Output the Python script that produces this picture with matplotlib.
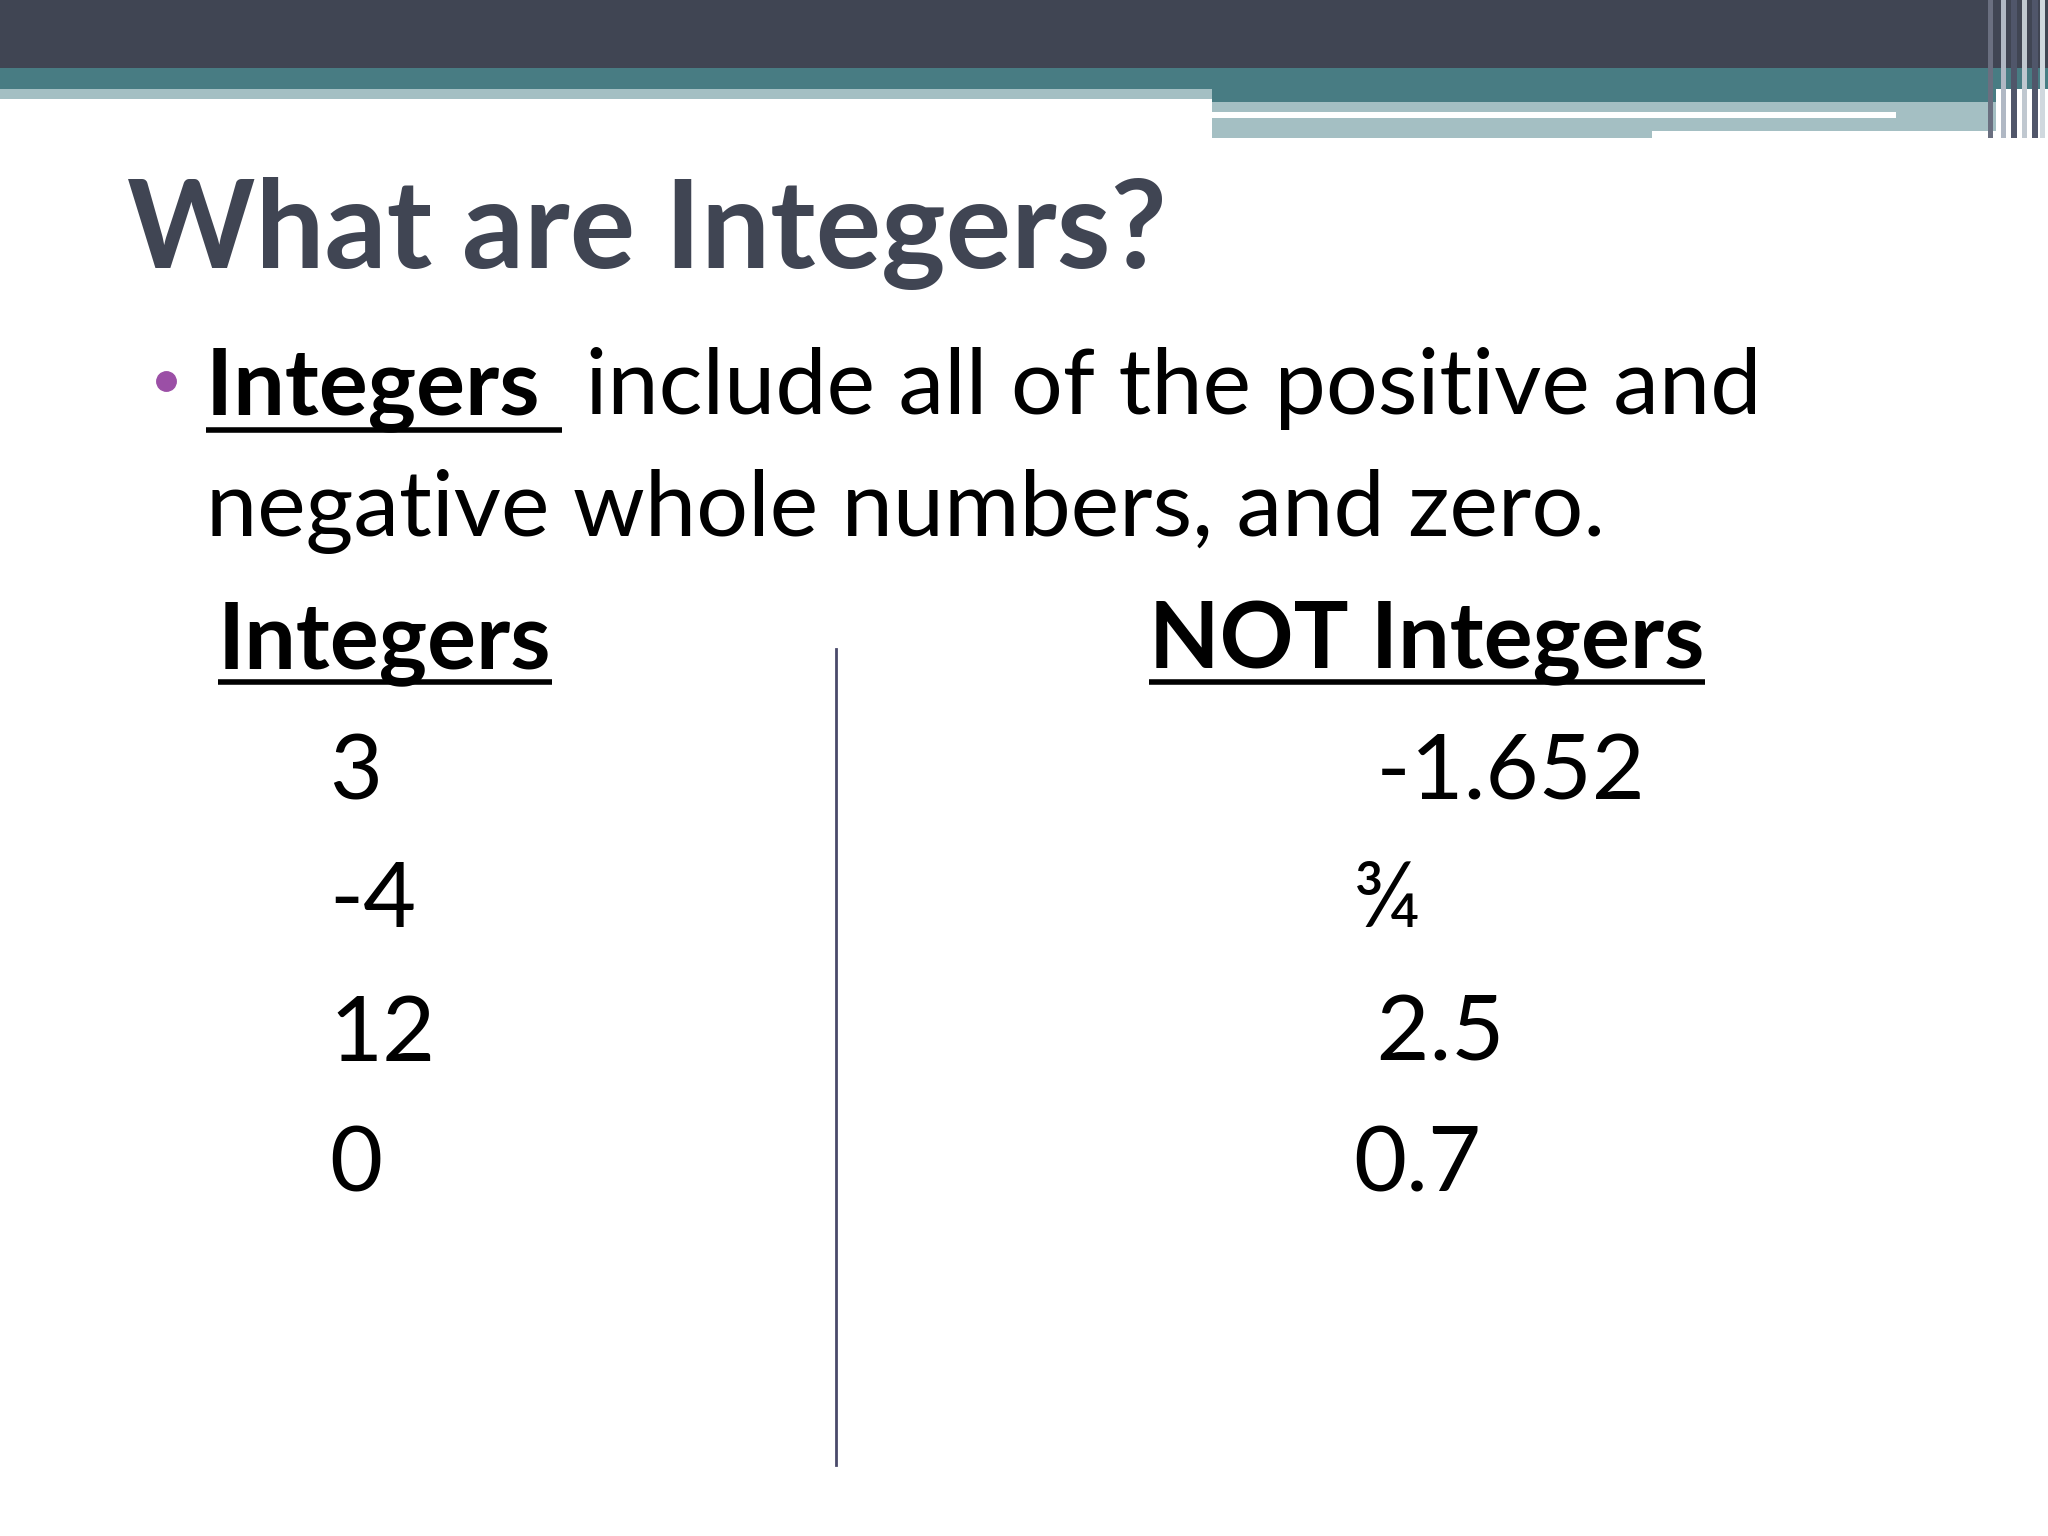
import matplotlib.pyplot as plt
from matplotlib.patches import Rectangle

# slide content
title = "What are Integers?"
bullet_bold = "Integers "
bullet_rest = " include all of the positive and"
bullet_line2 = "negative whole numbers, and zero."
left_header = "Integers"
right_header = "NOT Integers"
left_items = ["3", "-4", "12", "0"]
right_items = [" -1.652", "¾", " 2.5", "0.7"]
row_y = [612, 710, 812, 912]

W, H = 1568, 1176
DARK = "#404553"
TEAL = "#487c83"
LIGHT = "#a4bfc3"

fig = plt.figure(figsize=(20.48, 15.36), dpi=100)
ax = fig.add_axes([0, 0, 1, 1])
ax.set_xlim(0, W)
ax.set_ylim(H, 0)
ax.axis("off")
plt.rcParams['font.family'] = ['Lato', 'DejaVu Sans']

# header bands
bands = [
    (0, 0, W, 52, DARK),
    (0, 52, W, 16, TEAL),
    (0, 68, 928, 8, LIGHT),
    (928, 68, 600, 10, TEAL),
    (928, 78, 600, 22, LIGHT),
    (928, 100, 337, 6, LIGHT),
    (928, 86, 524, 4, "white"),
]
for x, y, w, h, c in bands:
    ax.add_patch(Rectangle((x, y), w, h, color=c, lw=0))
for x, c in [(1522, "#6a6f80"), (1532, "#b0b8c4"), (1540, "#50566a"), (1548, "#c0c8d0"), (1556, "#50566a"), (1562, "#d0d8de")]:
    ax.add_patch(Rectangle((x, 0), 4, 106, color=c, lw=0))

ax.text(97, 205, title, fontsize=88, fontweight="bold", color=DARK, va="baseline")

fig.canvas.draw()
r = fig.canvas.get_renderer()

def underline(t, y, lw=4):
    bb = t.get_window_extent(r).transformed(ax.transData.inverted())
    ax.plot([bb.x0, bb.x1], [y, y], color="black", lw=lw, solid_capstyle="butt")
    return bb

ax.plot(127, 292, "o", color="#9b4fa6", ms=14)
t = ax.text(158, 317, bullet_bold, fontsize=66, fontweight="bold", va="baseline")
bb = underline(t, 329)
ax.text(bb.x1, 317, bullet_rest, fontsize=66, va="baseline")
ax.text(158, 410, bullet_line2, fontsize=66, va="baseline")

t = ax.text(167, 512, left_header, fontsize=66, fontweight="bold", va="baseline")
underline(t, 522)
t = ax.text(880, 512, right_header, fontsize=66, fontweight="bold", va="baseline")
underline(t, 522)

for s, y in zip(left_items, row_y):
    ax.text(252, y, s, fontsize=66, va="baseline")
for s, y in zip(right_items, row_y):
    ax.text(1036, y, s, fontsize=66, va="baseline")

ax.plot([640, 640], [497, 1122], color="#4a4a6a", lw=2)

fig.savefig("out.png", dpi=100)
